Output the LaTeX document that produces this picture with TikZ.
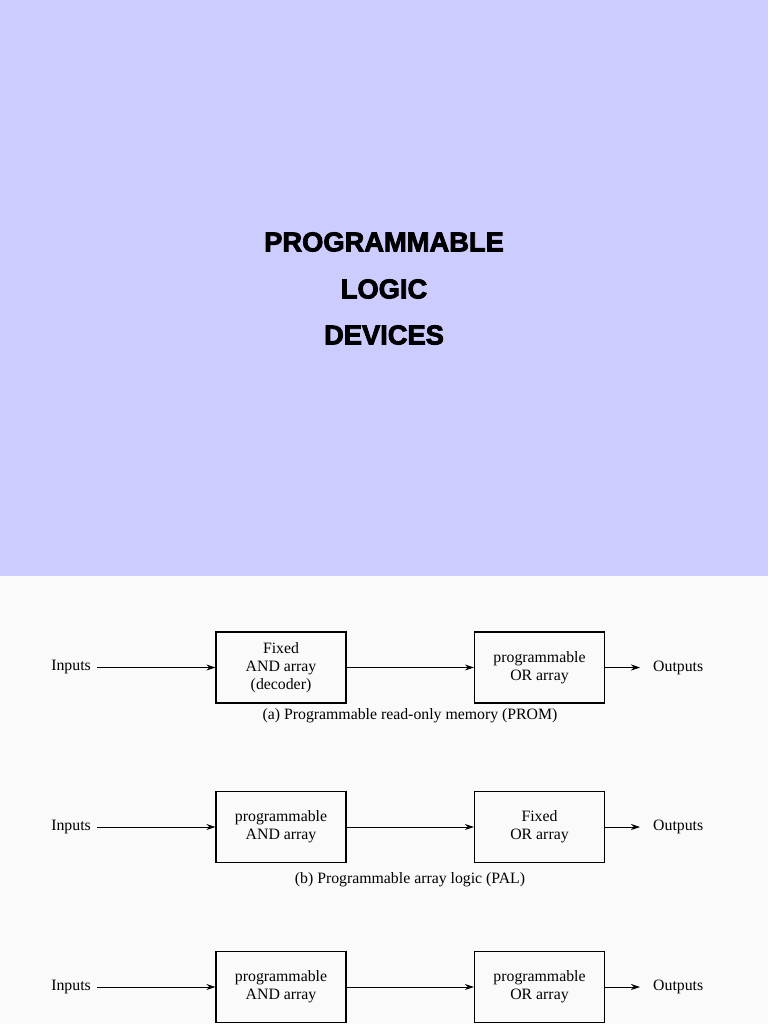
\documentclass[tikz,border=0pt]{standalone}
\usepackage{fontspec}
\setmainfont{Liberation Serif}
\newfontfamily\titlefont[FakeBold=3]{Liberation Sans Bold}
\usetikzlibrary{arrows.meta}
\begin{document}
\begin{tikzpicture}[x=1pt,y=-1pt,
  blk/.style={draw,line width=1.2pt,minimum width=130pt,minimum height=71pt,align=center,font=\fontsize{15.8}{18}\selectfont,inner sep=0pt},
  lbl/.style={font=\fontsize{15.8}{18}\selectfont,inner sep=0pt},
  arr/.style={-{Stealth[length=9pt,width=6pt]},line width=0.8pt},
  ttl/.style={font=\titlefont\fontsize{27.3}{26}\selectfont}]
\useasboundingbox (0,0) rectangle (768,1024);
\fill[fill={rgb,255:red,204;green,204;blue,255}] (0,0) rectangle (768,576);
\fill[fill={rgb,255:red,250;green,250;blue,250}] (0,576) rectangle (768,1024);
\node[ttl] (t1) at (384,242) {PROGRAMMABLE};
\node[ttl] (t2) at (384,289) {LOGIC};
\node[ttl] (t3) at (384,335) {DEVICES};
% row a
\node[blk] (a1) at (281,667.5) {Fixed\\AND array\\(decoder)};
\node[blk] (a2) at (539.5,667.5) {programmable\\OR array};
\node[lbl,anchor=east] (ai) at (91,667.5) {Inputs};
\node[lbl,anchor=west] (ao) at (653,667.5) {Outputs};
\draw[arr] ([xshift=6pt]ai.east |- a1.west) -- (a1.west);
\draw[arr] (a1) -- (a2);
\draw[arr] (a2.east) -- ([xshift=-13pt]ao.west |- a2.east);
\node[lbl] (ac) at (410,716) {(a) Programmable read-only memory (PROM)};
% row b
\node[blk] (b1) at (281,827) {programmable\\AND array};
\node[blk] (b2) at (539.5,827) {Fixed\\OR array};
\node[lbl,anchor=east] (bi) at (91,827) {Inputs};
\node[lbl,anchor=west] (bo) at (653,827) {Outputs};
\draw[arr] ([xshift=6pt]bi.east |- b1.west) -- (b1.west);
\draw[arr] (b1) -- (b2);
\draw[arr] (b2.east) -- ([xshift=-13pt]bo.west |- b2.east);
\node[lbl] (bc) at (410,880) {(b) Programmable array logic (PAL)};
% row c
\node[blk] (c1) at (281,987) {programmable\\AND array};
\node[blk] (c2) at (539.5,987) {programmable\\OR array};
\node[lbl,anchor=east] (ci) at (91,987) {Inputs};
\node[lbl,anchor=west] (co) at (653,987) {Outputs};
\draw[arr] ([xshift=6pt]ci.east |- c1.west) -- (c1.west);
\draw[arr] (c1) -- (c2);
\draw[arr] (c2.east) -- ([xshift=-13pt]co.west |- c2.east);
\end{tikzpicture}
\end{document}
